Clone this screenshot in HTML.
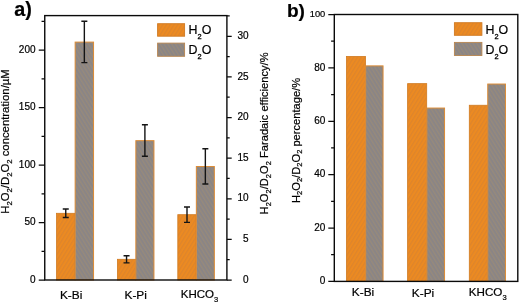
<!DOCTYPE html><html><head><meta charset="utf-8"><title>chart</title><style>
html,body{margin:0;padding:0;background:#fff}svg{display:block}text{font-family:"Liberation Sans",Arial,sans-serif;fill:#000;stroke:#000;stroke-width:0.2px}
</style></head><body>
<svg width="520" height="304" viewBox="0 0 520 304">
<defs>
<pattern id="ho" width="3.2" height="4" patternUnits="userSpaceOnUse" patternTransform="rotate(32)"><rect width="3.2" height="4" fill="#EC8A21"/><rect width="1.3" height="4" fill="#DE852B"/></pattern>
<pattern id="hg" width="3.2" height="4" patternUnits="userSpaceOnUse" patternTransform="rotate(-32)"><rect width="3.2" height="4" fill="#8A8586"/><rect width="1.3" height="4" fill="#978A7B"/></pattern>
</defs>
<rect width="520" height="304" fill="#fff"/>
<rect x="56.5" y="213.3" width="18.5" height="66.7" fill="url(#ho)" stroke="#D07B22" stroke-width="0.8"/>
<rect x="75.15" y="42.1" width="18.4" height="237.9" fill="url(#hg)" stroke="#DC8B35" stroke-width="1"/>
<rect x="117.4" y="259.3" width="18.3" height="20.7" fill="url(#ho)" stroke="#D07B22" stroke-width="0.8"/>
<rect x="135.85" y="140.66" width="18.1" height="139.34" fill="url(#hg)" stroke="#DC8B35" stroke-width="1"/>
<rect x="177.8" y="214.68" width="18.4" height="65.32" fill="url(#ho)" stroke="#D07B22" stroke-width="0.8"/>
<rect x="196.35" y="166.53" width="18" height="113.47" fill="url(#hg)" stroke="#DC8B35" stroke-width="1"/>
<path d="M65.75 209.05V217.56M62.75 209.05H68.75M62.75 217.56H68.75" stroke="#141414" stroke-width="1.4" fill="none"/>
<path d="M84.35 21.25V62.65M81.35 21.25H87.35M81.35 62.65H87.35" stroke="#141414" stroke-width="1.4" fill="none"/>
<path d="M126.55 255.74V262.87M123.55 255.74H129.55M123.55 262.87H129.55" stroke="#141414" stroke-width="1.4" fill="none"/>
<path d="M144.9 124.75V156.26M141.9 124.75H147.9M141.9 156.26H147.9" stroke="#141414" stroke-width="1.4" fill="none"/>
<path d="M187 206.98V222.39M184 206.98H190M184 222.39H190" stroke="#141414" stroke-width="1.4" fill="none"/>
<path d="M205.35 148.79V183.98M202.35 148.79H208.35M202.35 183.98H208.35" stroke="#141414" stroke-width="1.4" fill="none"/>
<rect x="44.75" y="15.6" width="182.15" height="264.4" fill="none" stroke="#0a0a0a" stroke-width="1.4"/>
<path d="M38.75 280H44.75M38.75 222.5H44.75M38.75 165H44.75M38.75 107.5H44.75M38.75 50H44.75M41.55 251.25H44.75M41.55 193.75H44.75M41.55 136.25H44.75M41.55 78.75H44.75M41.55 21.25H44.75M226.9 280H231.7M226.9 239.38H231.7M226.9 198.75H231.7M226.9 158.12H231.7M226.9 117.5H231.7M226.9 76.88H231.7M226.9 36.25H231.7M226.9 259.69H229.7M226.9 219.06H229.7M226.9 178.44H229.7M226.9 137.81H229.7M226.9 97.19H229.7M226.9 56.56H229.7M226.9 15.94H229.7" stroke="#0a0a0a" stroke-width="1.25" fill="none"/>
<text x="35.55" y="282.7" font-size="10" text-anchor="end">0</text>
<text x="35.55" y="225.2" font-size="10" text-anchor="end">50</text>
<text x="35.55" y="167.7" font-size="10" text-anchor="end">100</text>
<text x="35.55" y="110.2" font-size="10" text-anchor="end">150</text>
<text x="35.55" y="52.7" font-size="10" text-anchor="end">200</text>
<text x="248.5" y="282.7" font-size="10" text-anchor="end">0</text>
<text x="248.5" y="242.07" font-size="10" text-anchor="end">5</text>
<text x="248.5" y="201.45" font-size="10" text-anchor="end">10</text>
<text x="248.5" y="160.82" font-size="10" text-anchor="end">15</text>
<text x="248.5" y="120.2" font-size="10" text-anchor="end">20</text>
<text x="248.5" y="79.58" font-size="10" text-anchor="end">25</text>
<text x="248.5" y="38.95" font-size="10" text-anchor="end">30</text>
<text transform="translate(59.9 298.5) scale(1.06 1)" font-size="11.2">K-Bi</text>
<text transform="translate(124.5 298.9) scale(1.06 1)" font-size="11.2">K-Pi</text>
<text transform="translate(180.7 297.6) scale(1.03 1)" font-size="11.2">KHCO<tspan dy="4" font-size="7.3">3</tspan><tspan dy="-4" font-size="11.2">&#8203;</tspan></text>
<text transform="translate(9.3 213.7) rotate(-90) scale(1.09 1)" font-size="10.4">H<tspan dy="2.8" font-size="7.07">2</tspan><tspan dy="-2.8" font-size="10.4">&#8203;</tspan>O<tspan dy="2.8" font-size="7.07">2</tspan><tspan dy="-2.8" font-size="10.4">&#8203;</tspan>/D<tspan dy="2.8" font-size="7.07">2</tspan><tspan dy="-2.8" font-size="10.4">&#8203;</tspan>O<tspan dy="2.8" font-size="7.07">2</tspan><tspan dy="-2.8" font-size="10.4">&#8203;</tspan> concentration/µM</text>
<text transform="translate(268 214.4) rotate(-90) scale(1.07 1)" font-size="10.4">H<tspan dy="2.8" font-size="7.07">2</tspan><tspan dy="-2.8" font-size="10.4">&#8203;</tspan>O<tspan dy="2.8" font-size="7.07">2</tspan><tspan dy="-2.8" font-size="10.4">&#8203;</tspan>/D<tspan dy="2.8" font-size="7.07">2</tspan><tspan dy="-2.8" font-size="10.4">&#8203;</tspan>O<tspan dy="2.8" font-size="7.07">2</tspan><tspan dy="-2.8" font-size="10.4">&#8203;</tspan> Faradaic efficiency/%</text>
<text x="14.2" y="16.1" font-size="19.8" font-weight="bold">a)</text>
<rect x="157.6" y="23.7" width="27" height="12.5" fill="url(#ho)" stroke="#D07A22" stroke-width="0.9"/>
<rect x="157.6" y="43.1" width="27" height="13.2" fill="url(#hg)" stroke="#B8854F" stroke-width="0.9"/>
<text x="188.6" y="34.4" font-size="12.4">H<tspan dy="5" font-size="7.4" stroke="#000" stroke-width="0.3">2</tspan><tspan dy="-5" font-size="12.4">O</tspan></text>
<text x="188.6" y="53.8" font-size="12.4">D<tspan dy="5" font-size="7.4" stroke="#000" stroke-width="0.3">2</tspan><tspan dy="-5" font-size="12.4">O</tspan></text>
<rect x="346.4" y="56.4" width="19.1" height="225" fill="url(#ho)" stroke="#D07B22" stroke-width="0.8"/>
<rect x="365.65" y="65.89" width="17.4" height="215.51" fill="url(#hg)" stroke="#DC8B35" stroke-width="1"/>
<rect x="407.6" y="83.63" width="19.1" height="197.77" fill="url(#ho)" stroke="#D07B22" stroke-width="0.8"/>
<rect x="426.85" y="108.06" width="17.7" height="173.34" fill="url(#hg)" stroke="#DC8B35" stroke-width="1"/>
<rect x="469.3" y="105.25" width="18.3" height="176.15" fill="url(#ho)" stroke="#D07B22" stroke-width="0.8"/>
<rect x="487.75" y="84.04" width="17.7" height="197.36" fill="url(#hg)" stroke="#DC8B35" stroke-width="1"/>
<rect x="334.3" y="14.5" width="183.5" height="266.9" fill="none" stroke="#0a0a0a" stroke-width="1.4"/>
<path d="M328.3 281.4H334.3M328.3 228.02H334.3M328.3 174.64H334.3M328.3 121.26H334.3M328.3 67.88H334.3M328.3 14.5H334.3M331.1 254.71H334.3M331.1 201.33H334.3M331.1 147.95H334.3M331.1 94.57H334.3M331.1 41.19H334.3" stroke="#0a0a0a" stroke-width="1.25" fill="none"/>
<text x="325.3" y="284.1" font-size="10" text-anchor="end">0</text>
<text x="325.3" y="230.72" font-size="10" text-anchor="end">20</text>
<text x="325.3" y="177.34" font-size="10" text-anchor="end">40</text>
<text x="325.3" y="123.96" font-size="10" text-anchor="end">60</text>
<text x="325.3" y="70.58" font-size="10" text-anchor="end">80</text>
<text x="325.3" y="16.9" font-size="9.3" text-anchor="end">100</text>
<text transform="translate(351.8 295.8) scale(1.06 1)" font-size="11.2">K-Bi</text>
<text transform="translate(411.8 297.1) scale(1.06 1)" font-size="11.2">K-Pi</text>
<text transform="translate(468.8 296) scale(1.04 1)" font-size="11.2">KHCO<tspan dy="4" font-size="7.3">3</tspan><tspan dy="-4" font-size="11.2">&#8203;</tspan></text>
<text transform="translate(299.6 203) rotate(-90) scale(1.07 1)" font-size="10.4">H<tspan dy="2.8" font-size="7.07">2</tspan><tspan dy="-2.8" font-size="10.4">&#8203;</tspan>O<tspan dy="2.8" font-size="7.07">2</tspan><tspan dy="-2.8" font-size="10.4">&#8203;</tspan>/D<tspan dy="2.8" font-size="7.07">2</tspan><tspan dy="-2.8" font-size="10.4">&#8203;</tspan>O<tspan dy="2.8" font-size="7.07">2</tspan><tspan dy="-2.8" font-size="10.4">&#8203;</tspan> percentage/%</text>
<text x="286.9" y="16.7" font-size="19.1" font-weight="bold">b)</text>
<rect x="454.4" y="22.7" width="27.5" height="12.6" fill="url(#ho)" stroke="#D07A22" stroke-width="0.9"/>
<rect x="454.4" y="42.4" width="27.5" height="13.1" fill="url(#hg)" stroke="#B8854F" stroke-width="0.9"/>
<text x="485.5" y="33.8" font-size="12.4">H<tspan dy="5" font-size="7.4" stroke="#000" stroke-width="0.3">2</tspan><tspan dy="-5" font-size="12.4">O</tspan></text>
<text x="485.5" y="53.5" font-size="12.4">D<tspan dy="5" font-size="7.4" stroke="#000" stroke-width="0.3">2</tspan><tspan dy="-5" font-size="12.4">O</tspan></text>
</svg></body></html>
